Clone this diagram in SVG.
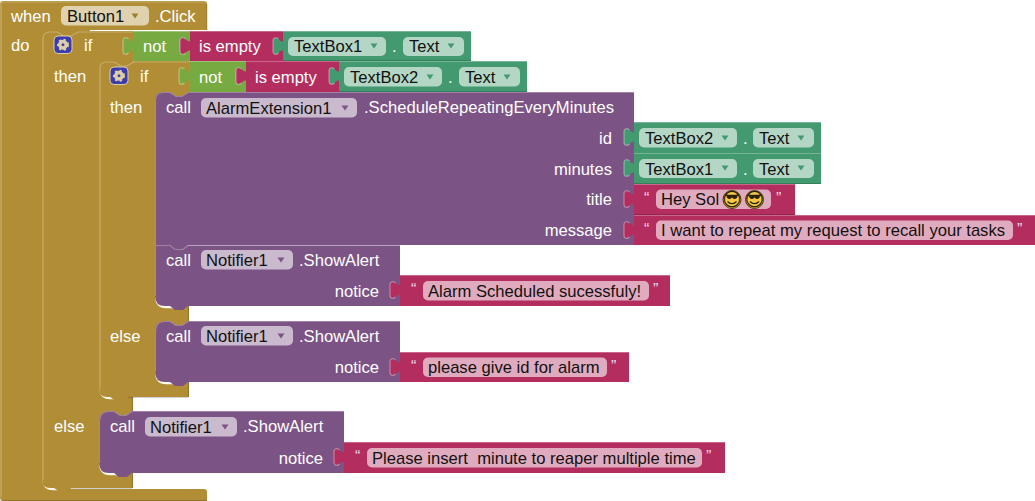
<svg xmlns="http://www.w3.org/2000/svg" width="1035" height="501" viewBox="0 0 1035 501">
<style>
text{font-family:"Liberation Sans",Arial,sans-serif;font-size:16.6px}
.w{fill:#fff}.k{fill:#111}.e{text-anchor:end}
.q{fill:#f3dbe5;font-size:16px}
.gold{fill:#b18e35}.pur{fill:#7c5385}.mag{fill:#b32d5e}.grn{fill:#439970}.lim{fill:#77ab41}
.pg{fill:#e0d2ae}.pp{fill:#cabacd}.pm{fill:#e1abbf}.pn{fill:#b4d6c5}
.hi{fill:none;stroke:#fff;stroke-opacity:.28;stroke-width:1.2}
.lo{fill:none;stroke:#000;stroke-opacity:.18;stroke-width:1.2}
.cr{fill:#fdfaf0}
.tri{stroke:none}
.gb{fill:#3c3cad;stroke:#dccfa8;stroke-width:1}
.gr{fill:none;stroke:#dccfa8;stroke-width:3.5}
.gt{fill:none;stroke:#dccfa8;stroke-width:2;stroke-dasharray:2.2 2.5}
.em{font-family:"DejaVu Sans",sans-serif;font-size:19px;fill:#2a2208;text-anchor:middle}
</style>
<defs>
<path id="tab" d="M1,10C-1,11-3,10-4.500,8-6.500,6-10,6-10,10V20C-10,24-6.500,24-4.500,22-3,20-1,19 1,20Z"/>
<path id="tabhi" d="M-4.500,8C-6.500,6-10,6-10,10V20C-10,24-6.500,24-4.500,22" fill="none" stroke="#fff" stroke-opacity=".35" stroke-width="1.2"/>
<path id="dd" d="M-3.500,-2.500H3.500L0,2.500Z"/>
<path id="cres" d="M0,-10V-7Q1.500,2.300 11,2.300H18V-3H5Z"/>
<g id="gear"><rect class="gb" x="-9" y="-9" width="18" height="17.500" rx="4"/><circle class="gr" r="3.200" cy="-.2"/><circle class="gt" r="5" cy="-.2"/></g>
</defs>

<g id="when-block">
<path class="gold" d="M3,1H204Q207,1 207,4V30H90V40H50V489H204Q207,489 207,492V501H4Q0,501 0,497V4Q0,1 3,1Z"/>
<path class="hi" d="M1,497V4Q1,2 3,2H206"/>
<path class="lo" d="M207,4V30M0,500.500H207"/>
<text class="w" x="11" y="22">when</text>
<rect class="pg" x="61" y="6" width="88" height="19.500" rx="5"/>
<text class="k" x="67" y="22">Button1</text>
<path class="tri" fill="#9a7f30" transform="translate(135,16)" d="M-3.500,-2.500H3.500L0,2.500Z"/>
<text class="w" x="155" y="22">.Click</text>
<text class="w" x="11" y="51">do</text>
</g>

<g id="if-outer">
<use href="#cres" class="cr" x="42" y="488"/>
<path class="gold" d="M50,31H57L64,35H71L78,31H133V488H72L66,492H60L54,488H50Q42,488 42,480V39Q42,31 50,31Z"/>
<path class="hi" d="M43,480V39Q43,32 50,32H57L64,36H71L78,32H133"/>
<path class="lo" d="M72,488.500H132M132.500,397V488"/>
<use href="#gear" x="63" y="45"/>
<text class="w" x="84" y="51">if</text>
<text class="w" x="54" y="82">then</text>
<text class="w" x="54" y="432">else</text>
</g>

<g id="if-inner">
<use href="#cres" class="cr" x="99" y="397"/>
<path class="gold" d="M106,61H114L121,65H127L134,61H189V397H128L122,401H116L110,397H107Q99,397 99,389V69Q99,61 106,61Z"/>
<path class="hi" d="M100,389V69Q100,62 106,62H114L121,66H127L134,62H189"/>
<path class="lo" d="M128,397.500H188M188.500,306V397"/>
<use href="#gear" x="119" y="76"/>
<text class="w" x="140" y="82">if</text>
<text class="w" x="110" y="113">then</text>
<text class="w" x="110" y="342">else</text>
</g>

<g id="not-1">
<use href="#tab" class="lim" x="133" y="31"/><use href="#tabhi" x="133" y="31"/>
<rect class="lim" x="133" y="31" width="58" height="30"/>
<path class="hi" d="M133,31.500H191"/>
<text class="w" x="143" y="52">not</text>
</g>
<g id="is-empty-1">
<rect class="mag" x="190" y="31" width="94" height="30"/>
<use href="#tab" class="mag" x="190" y="31"/><use href="#tabhi" x="190" y="31"/>
<path class="hi" d="M190,31.500H284"/>
<text class="w" x="199" y="52">is empty</text>
</g>
<g id="textbox1-text-a">
<rect class="grn" x="283" y="31" width="188" height="30"/>
<use href="#tab" class="grn" x="283" y="31"/><use href="#tabhi" x="283" y="31"/>
<path class="hi" d="M283,31.500H471"/><path class="lo" d="M283,60.500H471"/>
<rect class="pn" x="288" y="37" width="98" height="19" rx="5"/><text class="k" x="294" y="52">TextBox1</text>
<use href="#dd" fill="#439970" x="374" y="46"/>
<text class="w" x="392" y="52">.</text>
<rect class="pn" x="403" y="37" width="61" height="19" rx="5"/><text class="k" x="409" y="52">Text</text>
<use href="#dd" fill="#439970" x="451" y="46"/>
</g>

<g id="not-2">
<use href="#tab" class="lim" x="189" y="61"/><use href="#tabhi" x="189" y="61"/>
<rect class="lim" x="189" y="61" width="58" height="31"/>
<path class="hi" d="M189,61.500H247"/>
<text class="w" x="199" y="83">not</text>
</g>
<g id="is-empty-2">
<rect class="mag" x="246" y="61" width="94" height="31"/>
<use href="#tab" class="mag" x="246" y="61"/><use href="#tabhi" x="246" y="61"/>
<path class="hi" d="M246,61.500H340"/>
<text class="w" x="255" y="83">is empty</text>
</g>
<g id="textbox2-text-a">
<rect class="grn" x="339" y="61" width="188" height="31"/>
<use href="#tab" class="grn" x="339" y="61"/><use href="#tabhi" x="339" y="61"/>
<path class="hi" d="M339,61.500H527"/><path class="lo" d="M339,91.500H527"/>
<rect class="pn" x="344" y="67" width="98" height="19.500" rx="5"/><text class="k" x="350" y="83">TextBox2</text>
<use href="#dd" fill="#439970" x="430" y="77"/>
<text class="w" x="448" y="83">.</text>
<rect class="pn" x="459" y="67" width="61" height="19.500" rx="5"/><text class="k" x="465" y="83">Text</text>
<use href="#dd" fill="#439970" x="507" y="77"/>
</g>

<g id="call-notifier-success">
<use href="#cres" class="cr" x="155" y="306"/>
<path class="pur" d="M155,245H170L176,249H182L188,245H400V306H188L183,310H175L170,306H165Q155,306 155,296Z"/>
<path class="hi" d="M188,245.500H400"/>
<path class="hi" d="M155.500,296V246"/>
<text class="w" x="166" y="266">call</text>
<rect class="pp" x="201" y="250" width="92" height="19.500" rx="5"/><text class="k" x="206" y="266">Notifier1</text>
<use href="#dd" fill="#7c5385" x="281" y="260"/>
<text class="w" x="299" y="266">.ShowAlert</text>
<text class="w e" x="379" y="297">notice</text>
</g>

<g id="call-alarm">
<path class="pur" d="M163,92H170L176,96H182L188,92H634V245H188L183,249H175L170,245H155V100Q155,92 163,92Z"/>
<path class="hi" d="M155.500,245V100Q156,92.500 163,92.500H170L176,96.500H182L188,92.500H634"/>
<path class="hi" d="M155,245.500H170L175,249.500H183L188,245.500H400"/>
<text class="w" x="166" y="113">call</text>
<rect class="pp" x="201" y="98" width="156" height="19.500" rx="5"/><text class="k" x="206" y="114">AlarmExtension1</text>
<use href="#dd" fill="#7c5385" x="345" y="108"/>
<text class="w" x="364" y="113">.ScheduleRepeatingEveryMinutes</text>
<text class="w e" x="612" y="144">id</text>
<text class="w e" x="612" y="175">minutes</text>
<text class="w e" x="612" y="205">title</text>
<text class="w e" x="612" y="236">message</text>
</g>

<g id="textbox2-text-b">
<rect class="grn" x="634" y="122" width="187" height="31"/>
<use href="#tab" class="grn" x="634" y="122"/><use href="#tabhi" x="634" y="122"/>
<path class="hi" d="M634,122.500H821"/>
<rect class="pn" x="639" y="128" width="98" height="19.500" rx="5"/><text class="k" x="645" y="144">TextBox2</text>
<use href="#dd" fill="#439970" x="725" y="138"/>
<text class="w" x="743" y="144">.</text>
<rect class="pn" x="753" y="128" width="61" height="19.500" rx="5"/><text class="k" x="759" y="144">Text</text>
<use href="#dd" fill="#439970" x="801" y="138"/>
</g>
<g id="textbox1-text-b">
<rect class="grn" x="634" y="153" width="187" height="31"/>
<use href="#tab" class="grn" x="634" y="153"/><use href="#tabhi" x="634" y="153"/>
<path class="hi" d="M634,153.500H821"/><path class="lo" d="M634,183.500H821"/>
<rect class="pn" x="639" y="159" width="98" height="19" rx="5"/><text class="k" x="645" y="175">TextBox1</text>
<use href="#dd" fill="#439970" x="725" y="168"/>
<text class="w" x="743" y="175">.</text>
<rect class="pn" x="753" y="159" width="61" height="19" rx="5"/><text class="k" x="759" y="175">Text</text>
<use href="#dd" fill="#439970" x="801" y="168"/>
</g>
<g id="string-title">
<rect class="mag" x="634" y="184" width="161" height="31"/>
<use href="#tab" class="mag" x="634" y="184"/><use href="#tabhi" x="634" y="184"/>
<path class="hi" d="M634,184.500H795"/><path class="lo" d="M634,214.500H795"/>
<text class="q" x="644" y="204">“</text>
<rect class="pm" x="656" y="189.500" width="115" height="19.500" rx="5"/>
<text class="k" x="661" y="205">Hey Sol</text>
<circle cx="732" cy="199.500" r="9" fill="#f6c945" stroke="#4a3a10"/><circle cx="754.500" cy="199.500" r="9" fill="#f6c945" stroke="#4a3a10"/>
<text class="em" x="732" y="206">😎</text>
<text class="em" x="754.500" y="206">😎</text>
<text class="q" x="776" y="204">”</text>
</g>
<g id="string-message">
<rect class="mag" x="634" y="215" width="401" height="30"/>
<use href="#tab" class="mag" x="634" y="215"/><use href="#tabhi" x="634" y="215"/>
<path class="hi" d="M634,215.500H1035"/>
<text class="q" x="644" y="235">“</text>
<rect class="pm" x="656" y="220.500" width="357" height="19.500" rx="5"/>
<text class="k" x="661" y="236">I want to repeat my request to recall your tasks</text>
<text class="q" x="1017" y="235">”</text>
</g>
<g id="string-success">
<rect class="mag" x="400" y="275" width="270" height="31"/>
<use href="#tab" class="mag" x="400" y="275"/><use href="#tabhi" x="400" y="275"/>
<path class="hi" d="M400,275.500H670"/>
<text class="q" x="411" y="295">“</text>
<rect class="pm" x="423" y="281" width="226" height="19.500" rx="5"/>
<text class="k" x="428" y="297">Alarm Scheduled sucessfuly!</text>
<text class="q" x="653" y="295">”</text>
</g>

<g id="call-notifier-id">
<use href="#cres" class="cr" x="155" y="382"/>
<path class="pur" d="M165,321H170L176,325H182L188,321H400V382H188L183,386H175L170,382H165Q155,382 155,372V331Q155,321 165,321Z"/>
<path class="hi" d="M155.500,372V331Q156,321.500 165,321.500H170L176,325.500H182L188,321.500H400"/>
<text class="w" x="166" y="342">call</text>
<rect class="pp" x="201" y="326" width="92" height="19.500" rx="5"/><text class="k" x="206" y="342">Notifier1</text>
<use href="#dd" fill="#7c5385" x="281" y="336"/>
<text class="w" x="299" y="342">.ShowAlert</text>
<text class="w e" x="379" y="373">notice</text>
</g>
<g id="string-id">
<rect class="mag" x="400" y="352" width="229" height="30"/>
<use href="#tab" class="mag" x="400" y="352"/><use href="#tabhi" x="400" y="352"/>
<path class="hi" d="M400,352.500H629"/>
<text class="q" x="411" y="372">“</text>
<rect class="pm" x="423" y="357.500" width="184" height="19.500" rx="5"/>
<text class="k" x="428" y="373">please give id for alarm</text>
<text class="q" x="611" y="372">”</text>
</g>

<g id="call-notifier-minute">
<use href="#cres" class="cr" x="99" y="473"/>
<path class="pur" d="M109,411H114L120,415H126L132,411H344V473H132L127,477H119L114,473H109Q99,473 99,463V421Q99,411 109,411Z"/>
<path class="hi" d="M99.500,463V421Q100,411.500 109,411.500H114L120,415.500H126L132,411.500H344"/>
<text class="w" x="110" y="432">call</text>
<rect class="pp" x="145" y="417" width="92" height="19.500" rx="5"/><text class="k" x="150" y="433">Notifier1</text>
<use href="#dd" fill="#7c5385" x="225" y="427"/>
<text class="w" x="243" y="432">.ShowAlert</text>
<text class="w e" x="323" y="464">notice</text>
</g>
<g id="string-minute">
<rect class="mag" x="344" y="442" width="381" height="31"/>
<use href="#tab" class="mag" x="344" y="442"/><use href="#tabhi" x="344" y="442"/>
<path class="hi" d="M344,442.500H725"/>
<text class="q" x="355" y="462">“</text>
<rect class="pm" x="367" y="448" width="335" height="19.500" rx="5"/>
<text class="k" x="372" y="464" xml:space="preserve">Please insert  minute to reaper multiple time</text>
<text class="q" x="706" y="462">”</text>
</g>
</svg>
